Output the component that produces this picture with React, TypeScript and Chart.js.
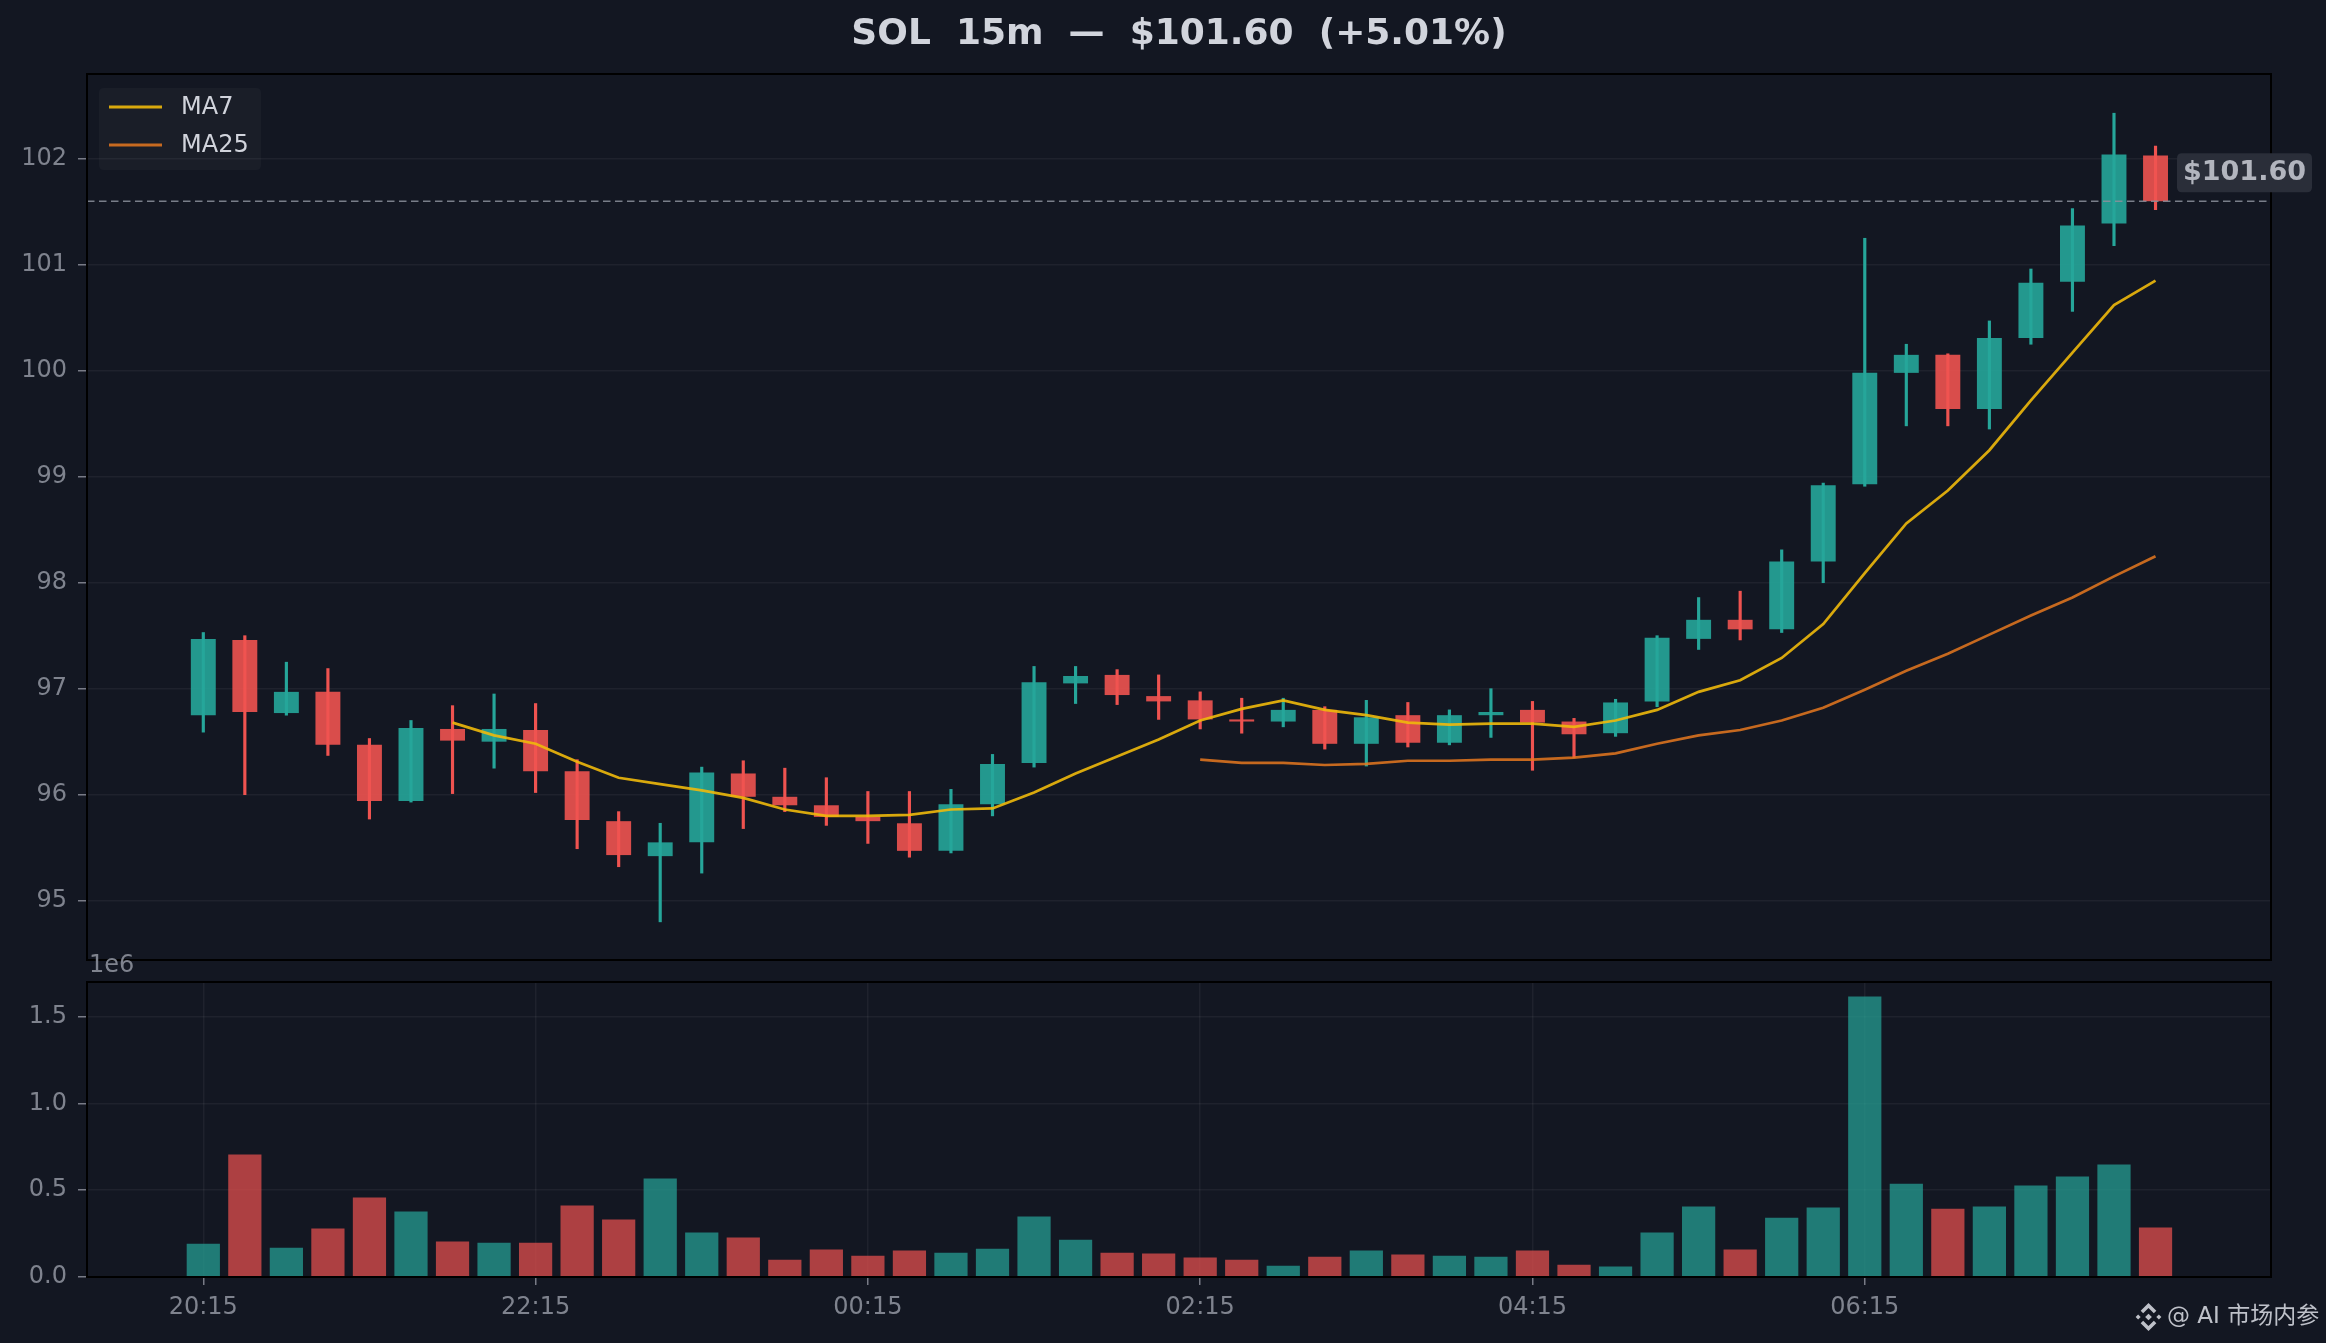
import React, { useEffect, useRef } from 'react';
import { Chart, registerables } from 'chart.js';

Chart.register(...registerables);

// ---------------- data ----------------
const symbol = 'SOL';
const interval = '15m';
const lastPrice = 101.6;
const changePct = 5.01;

const opens = [
  96.75, 97.46, 96.77, 96.97, 96.47, 95.94, 96.62, 96.5, 96.61, 96.22, 95.75, 95.42,
  95.55, 96.2, 95.98, 95.9, 95.79, 95.73, 95.47, 95.91, 96.3, 97.05, 97.13, 96.93,
  96.89, 96.71, 96.69, 96.8, 96.48, 96.75, 96.49, 96.75, 96.8, 96.69, 96.58, 96.88,
  97.47, 97.65, 97.56, 98.2, 98.93, 99.98, 100.15, 99.64, 100.31, 100.84, 101.39, 102.03,
];
const highs = [
  97.53, 97.5, 97.25, 97.19, 96.53, 96.7, 96.84, 96.95, 96.86, 96.33, 95.84, 95.73,
  96.26, 96.32, 96.25, 96.16, 96.03, 96.03, 96.05, 96.38, 97.21, 97.21, 97.18, 97.13,
  96.97, 96.91, 96.91, 96.83, 96.89, 96.87, 96.8, 97.0, 96.88, 96.72, 96.9, 97.5,
  97.86, 97.92, 98.31, 98.94, 101.25, 100.25, 100.16, 100.47, 100.96, 101.53, 102.43, 102.12,
];
const lows = [
  96.59, 96.0, 96.75, 96.37, 95.77, 95.93, 96.01, 96.25, 96.02, 95.49, 95.32, 94.8,
  95.26, 95.68, 95.84, 95.71, 95.54, 95.41, 95.45, 95.8, 96.26, 96.86, 96.85, 96.71,
  96.62, 96.58, 96.64, 96.43, 96.27, 96.45, 96.47, 96.54, 96.23, 96.35, 96.55, 96.83,
  97.37, 97.46, 97.53, 98.0, 98.91, 99.48, 99.48, 99.45, 100.25, 100.56, 101.18, 101.52,
];
const closes = [
  97.47, 96.78, 96.97, 96.47, 95.94, 96.63, 96.51, 96.62, 96.22, 95.76, 95.43, 95.55,
  96.21, 95.98, 95.9, 95.79, 95.75, 95.47, 95.91, 96.29, 97.06, 97.12, 96.94, 96.88,
  96.71, 96.69, 96.8, 96.48, 96.73, 96.49, 96.75, 96.78, 96.68, 96.57, 96.87, 97.48,
  97.65, 97.56, 98.2, 98.92, 99.98, 100.15, 99.64, 100.31, 100.83, 101.37, 102.04, 101.6,
];
const volumes = [
  192000, 706000, 169000, 279000, 458000, 377000, 204000, 198000, 198000, 412000, 331000, 567000,
  256000, 227000, 100000, 158000, 123000, 152000, 140000, 163000, 348000, 215000, 140000, 135000,
  112000, 100000, 65000, 117000, 152000, 129000, 123000, 117000, 152000, 71000, 60000, 256000,
  406000, 158000, 342000, 400000, 1617000, 538000, 394000, 406000, 527000, 579000, 648000, 285000,
];
const ma7 = [
  null, null, null, null, null, null,
  96.68, 96.56, 96.48, 96.31, 96.16, 96.1, 96.04, 95.97, 95.86, 95.8, 95.8, 95.81,
  95.86, 95.87, 96.02, 96.2, 96.36, 96.52, 96.7, 96.81, 96.89, 96.8, 96.75, 96.68,
  96.66, 96.67, 96.67, 96.64, 96.7, 96.8, 96.97, 97.08, 97.29, 97.61, 98.09, 98.56,
  98.87, 99.25, 99.72, 100.17, 100.62, 100.85,
];
const ma25 = [
  null, null, null, null, null, null, null, null, null, null, null, null,
  null, null, null, null, null, null, null, null, null, null, null, null,
  96.33, 96.3, 96.3, 96.28, 96.29, 96.32, 96.32, 96.33, 96.33, 96.35, 96.39, 96.48,
  96.56, 96.61, 96.7, 96.82, 96.99, 97.17, 97.33, 97.51, 97.69, 97.86, 98.06, 98.25,
];
const xTickIndices = [0, 8, 16, 24, 32, 40];
const xTickLabels = ['20:15', '22:15', '00:15', '02:15', '04:15', '06:15'];
const volTickValues = [0, 500000, 1000000, 1500000];
const watermark = '@ AI 市场内参';

// ---------------- styles ----------------
const BG = '#131722';
const UP = '#26a69a';
const DOWN = '#ef5350';
const UP_BODY = 'rgba(38,166,154,0.9)';
const DOWN_BODY = 'rgba(239,83,80,0.9)';
const UP_VOL = 'rgba(38,166,154,0.7)';
const DOWN_VOL = 'rgba(239,83,80,0.7)';
const GRID = 'rgba(255,255,255,0.05)';
const TICK_COLOR = '#787b86';
const LABEL_COLOR = '#7f838e';
const TEXT = '#d1d4dc';
const FONT = 'DejaVu Sans';
const AXIS_W = 87;
const RIGHT_PAD = 55;
const X_MIN = -2.8;
const X_MAX = 49.78;

Chart.defaults.font.family = FONT;

const idx = closes.map((_, i) => i);
const isUp = closes.map((c, i) => c >= opens[i]);

function roundRect(ctx: CanvasRenderingContext2D, x: number, y: number, w: number, h: number, r: number) {
  ctx.beginPath();
  ctx.moveTo(x + r, y);
  ctx.lineTo(x + w - r, y);
  ctx.quadraticCurveTo(x + w, y, x + w, y + r);
  ctx.lineTo(x + w, y + h - r);
  ctx.quadraticCurveTo(x + w, y + h, x + w - r, y + h);
  ctx.lineTo(x + r, y + h);
  ctx.quadraticCurveTo(x, y + h, x, y + h - r);
  ctx.lineTo(x, y + r);
  ctx.quadraticCurveTo(x, y, x + r, y);
  ctx.closePath();
}

function drawBorder(chart: any) {
  const { ctx, chartArea: a } = chart;
  ctx.save();
  ctx.strokeStyle = '#000000';
  ctx.lineWidth = 2;
  ctx.strokeRect(a.left, a.top, a.right - a.left, a.bottom - a.top);
  ctx.restore();
}

const pricePlugin = {
  id: 'priceDecor',
  afterDraw(chart: any) {
    const { ctx, chartArea: a } = chart;
    const yScale = chart.scales.y;
    const yLast = yScale.getPixelForValue(lastPrice);
    ctx.save();
    ctx.strokeStyle = 'rgba(140,144,155,0.85)';
    ctx.lineWidth = 1.5;
    ctx.setLineDash([7.5, 4.5]);
    ctx.beginPath();
    ctx.moveTo(a.left, yLast);
    ctx.lineTo(a.right, yLast);
    ctx.stroke();
    ctx.setLineDash([]);
    ctx.restore();

    drawBorder(chart);

    ctx.save();
    const bx = a.right - 94;
    const by = yLast - 48;
    roundRect(ctx, bx, by, 135, 39, 5);
    ctx.fillStyle = '#2a2e39';
    ctx.fill();
    ctx.fillStyle = '#b2b5be';
    ctx.font = `bold 27px ${FONT}`;
    ctx.textAlign = 'center';
    ctx.textBaseline = 'middle';
    ctx.fillText(`$${lastPrice.toFixed(2)}`, bx + 67.5, by + 20);

    const lx = a.left + 12;
    const ly = a.top + 14;
    roundRect(ctx, lx, ly, 162, 82, 5);
    ctx.fillStyle = 'rgba(255,255,255,0.03)';
    ctx.fill();
    const lines = chart.data.datasets.filter((d: any) => d.type === 'line');
    lines.forEach((d: any, k: number) => {
      const yy = ly + 19 + k * 38;
      ctx.strokeStyle = d.borderColor;
      ctx.lineWidth = 3;
      ctx.beginPath();
      ctx.moveTo(lx + 10, yy);
      ctx.lineTo(lx + 63, yy);
      ctx.stroke();
      ctx.fillStyle = TEXT;
      ctx.font = `24px ${FONT}`;
      ctx.textAlign = 'left';
      ctx.textBaseline = 'middle';
      ctx.fillText(d.label, lx + 82, yy + 1);
    });

    ctx.fillStyle = TEXT;
    ctx.font = `bold 36px ${FONT}`;
    ctx.textAlign = 'center';
    ctx.textBaseline = 'middle';
    const sign = changePct >= 0 ? '+' : '';
    ctx.fillText(
      `${symbol}  ${interval}  —  $${lastPrice.toFixed(2)}  (${sign}${changePct.toFixed(2)}%)`,
      (a.left + a.right) / 2,
      35
    );
    ctx.restore();
  },
};

function drawLogo(ctx: CanvasRenderingContext2D, cx: number, cy: number, s: number) {
  const h = s / 2;
  const P = (pts: number[][]) => {
    ctx.beginPath();
    pts.forEach(([x, y], i) => {
      const px = cx + x * h;
      const py = cy + y * h;
      if (i === 0) ctx.moveTo(px, py);
      else ctx.lineTo(px, py);
    });
    ctx.closePath();
    ctx.fill();
  };
  P([[0, -0.24], [0.24, 0], [0, 0.24], [-0.24, 0]]);
  P([[-0.74, -0.18], [-0.56, 0], [-0.74, 0.18], [-0.92, 0]]);
  P([[0.74, -0.18], [0.92, 0], [0.74, 0.18], [0.56, 0]]);
  P([[0, -1], [0.56, -0.44], [0.38, -0.26], [0, -0.64], [-0.38, -0.26], [-0.56, -0.44]]);
  P([[0, 1], [0.56, 0.44], [0.38, 0.26], [0, 0.64], [-0.38, 0.26], [-0.56, 0.44]]);
}

const volPlugin = {
  id: 'volDecor',
  afterDraw(chart: any) {
    const { ctx, chartArea: a } = chart;
    drawBorder(chart);
    ctx.save();
    ctx.fillStyle = LABEL_COLOR;
    ctx.font = `24px ${FONT}`;
    ctx.textAlign = 'left';
    ctx.textBaseline = 'middle';
    ctx.fillText('1e6', a.left + 2, a.top - 16);

    ctx.fillStyle = 'rgba(209,212,220,0.9)';
    drawLogo(ctx, 2148.5, 372, 28);
    ctx.font = `23px ${FONT}, "Noto Sans CJK SC"`;
    ctx.textAlign = 'left';
    ctx.textBaseline = 'middle';
    ctx.fillText(watermark, 2167, 372);
    ctx.restore();
  },
};

export default function App() {
  const priceRef = useRef<HTMLCanvasElement>(null);
  const volRef = useRef<HTMLCanvasElement>(null);

  useEffect(() => {
    document.body.style.margin = '0';
    document.body.style.background = BG;
    document.body.style.overflow = 'hidden';

    const yAxisFit = (s: any) => {
      s.width = AXIS_W;
      s.paddingTop = 0;
      s.paddingBottom = 0;
    };

    const priceChart = new Chart(priceRef.current as HTMLCanvasElement, {
      type: 'bar',
      data: {
        datasets: [
          {
            type: 'line',
            label: 'MA7',
            data: idx.map((i) => ({ x: i, y: ma7[i] })),
            borderColor: 'rgba(240,185,11,0.9)',
            borderWidth: 2.7,
            pointRadius: 0,
            tension: 0,
            order: 0,
          } as any,
          {
            type: 'line',
            label: 'MA25',
            data: idx.map((i) => ({ x: i, y: ma25[i] })),
            borderColor: 'rgba(230,120,30,0.85)',
            borderWidth: 2.7,
            pointRadius: 0,
            tension: 0,
            order: 1,
          } as any,
          {
            type: 'bar',
            label: 'body',
            data: idx.map((i) => ({ x: i, y: [opens[i], closes[i]] })),
            backgroundColor: isUp.map((u) => (u ? UP_BODY : DOWN_BODY)),
            borderWidth: 0,
            barPercentage: 0.6,
            categoryPercentage: 1,
            grouped: false,
            order: 2,
          } as any,
          {
            type: 'bar',
            label: 'wick',
            data: idx.map((i) => ({ x: i, y: [lows[i], highs[i]] })),
            backgroundColor: isUp.map((u) => (u ? UP : DOWN)),
            borderWidth: 0,
            barThickness: 2.5,
            grouped: false,
            order: 3,
          } as any,
        ],
      },
      options: {
        responsive: false,
        animation: false,
        events: [],
        layout: { padding: { top: 74, right: RIGHT_PAD, bottom: 5, left: 0 } },
        plugins: { legend: { display: false }, tooltip: { enabled: false }, title: { display: false } },
        scales: {
          x: {
            type: 'linear',
            min: X_MIN,
            max: X_MAX,
            offset: false,
            display: false,
            grid: { offset: false },
          },
          y: {
            type: 'linear',
            position: 'left',
            min: 94.44,
            max: 102.8,
            afterFit: yAxisFit,
            border: { display: false },
            grid: {
              color: GRID,
              lineWidth: 1.5,
              drawTicks: true,
              tickLength: 9,
              tickColor: TICK_COLOR,
              tickWidth: 1.5,
            },
            ticks: {
              stepSize: 1,
              includeBounds: false,
              color: LABEL_COLOR,
              font: { family: FONT, size: 24 },
              padding: 11,
            },
          },
        },
      } as any,
      plugins: [pricePlugin],
    });

    const volChart = new Chart(volRef.current as HTMLCanvasElement, {
      type: 'bar',
      data: {
        datasets: [
          {
            label: 'Volume',
            data: idx.map((i) => ({ x: i, y: volumes[i] })),
            backgroundColor: isUp.map((u) => (u ? UP_VOL : DOWN_VOL)),
            borderWidth: 0,
            barPercentage: 0.8,
            categoryPercentage: 1,
          } as any,
        ],
      },
      options: {
        responsive: false,
        animation: false,
        events: [],
        layout: { padding: { top: 37, right: RIGHT_PAD, bottom: 0, left: 0 } },
        plugins: { legend: { display: false }, tooltip: { enabled: false } },
        scales: {
          x: {
            type: 'linear',
            min: X_MIN,
            max: X_MAX,
            offset: false,
            afterBuildTicks: (s: any) => {
              s.ticks = xTickIndices.map((v) => ({ value: v }));
            },
            afterFit: (s: any) => {
              s.height = 66;
              s.paddingLeft = 0;
              s.paddingRight = 0;
            },
            border: { display: false },
            grid: {
              offset: false,
              color: GRID,
              lineWidth: 1.5,
              drawTicks: true,
              tickLength: 8,
              tickColor: TICK_COLOR,
              tickWidth: 1.5,
            },
            ticks: {
              autoSkip: false,
              maxRotation: 0,
              color: LABEL_COLOR,
              font: { family: FONT, size: 24 },
              padding: 8,
              callback: (v: any) => {
                const k = xTickIndices.indexOf(Number(v));
                return k >= 0 ? xTickLabels[k] : '';
              },
            },
          },
          y: {
            type: 'linear',
            position: 'left',
            min: 0,
            max: 1700000,
            afterBuildTicks: (s: any) => {
              s.ticks = volTickValues.map((v) => ({ value: v }));
            },
            afterFit: yAxisFit,
            border: { display: false },
            grid: {
              color: GRID,
              lineWidth: 1.5,
              drawTicks: true,
              tickLength: 9,
              tickColor: TICK_COLOR,
              tickWidth: 1.5,
            },
            ticks: {
              color: LABEL_COLOR,
              font: { family: FONT, size: 24 },
              padding: 11,
              callback: (v: any) => (Number(v) / 1e6).toFixed(1),
            },
          },
        },
      } as any,
      plugins: [volPlugin],
    });

    return () => {
      priceChart.destroy();
      volChart.destroy();
    };
  }, []);

  return (
    <div style={{ position: 'relative', width: 2326, height: 1343, background: BG, overflow: 'hidden' }}>
      <canvas ref={priceRef} width={2326} height={965} style={{ position: 'absolute', left: 0, top: 0 }} />
      <canvas ref={volRef} width={2326} height={398} style={{ position: 'absolute', left: 0, top: 945 }} />
    </div>
  );
}
